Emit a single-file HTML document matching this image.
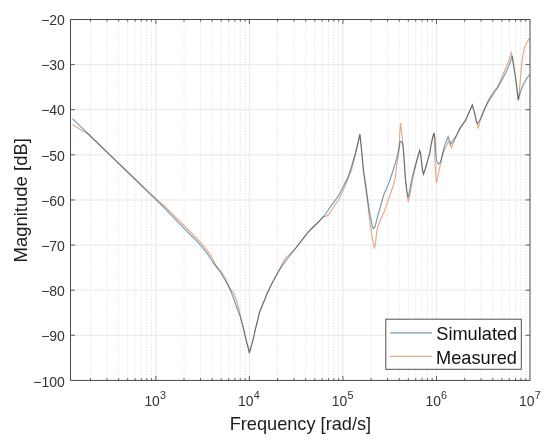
<!DOCTYPE html>
<html><head><meta charset="utf-8"><title>Bode magnitude</title>
<style>html,body{margin:0;padding:0;background:#fff}body{width:550px;height:443px;overflow:hidden}svg{display:block}text{font-family:"Liberation Sans",Arial,Helvetica,sans-serif}</style></head><body>
<svg width="550" height="443" viewBox="0 0 550 443">
<rect width="550" height="443" fill="#fff"/>
<g stroke="#e2e2e2" stroke-width="0.8" stroke-dasharray="1.6 1.4" fill="none"><line x1="90.46" y1="19.50" x2="90.46" y2="380.40"/><line x1="106.93" y1="19.50" x2="106.93" y2="380.40"/><line x1="118.62" y1="19.50" x2="118.62" y2="380.40"/><line x1="127.68" y1="19.50" x2="127.68" y2="380.40"/><line x1="135.09" y1="19.50" x2="135.09" y2="380.40"/><line x1="141.35" y1="19.50" x2="141.35" y2="380.40"/><line x1="146.78" y1="19.50" x2="146.78" y2="380.40"/><line x1="151.56" y1="19.50" x2="151.56" y2="380.40"/><line x1="184.00" y1="19.50" x2="184.00" y2="380.40"/><line x1="200.47" y1="19.50" x2="200.47" y2="380.40"/><line x1="212.16" y1="19.50" x2="212.16" y2="380.40"/><line x1="221.22" y1="19.50" x2="221.22" y2="380.40"/><line x1="228.63" y1="19.50" x2="228.63" y2="380.40"/><line x1="234.89" y1="19.50" x2="234.89" y2="380.40"/><line x1="240.32" y1="19.50" x2="240.32" y2="380.40"/><line x1="245.10" y1="19.50" x2="245.10" y2="380.40"/><line x1="277.54" y1="19.50" x2="277.54" y2="380.40"/><line x1="294.01" y1="19.50" x2="294.01" y2="380.40"/><line x1="305.70" y1="19.50" x2="305.70" y2="380.40"/><line x1="314.76" y1="19.50" x2="314.76" y2="380.40"/><line x1="322.17" y1="19.50" x2="322.17" y2="380.40"/><line x1="328.43" y1="19.50" x2="328.43" y2="380.40"/><line x1="333.86" y1="19.50" x2="333.86" y2="380.40"/><line x1="338.64" y1="19.50" x2="338.64" y2="380.40"/><line x1="371.08" y1="19.50" x2="371.08" y2="380.40"/><line x1="387.55" y1="19.50" x2="387.55" y2="380.40"/><line x1="399.24" y1="19.50" x2="399.24" y2="380.40"/><line x1="408.30" y1="19.50" x2="408.30" y2="380.40"/><line x1="415.71" y1="19.50" x2="415.71" y2="380.40"/><line x1="421.97" y1="19.50" x2="421.97" y2="380.40"/><line x1="427.40" y1="19.50" x2="427.40" y2="380.40"/><line x1="432.18" y1="19.50" x2="432.18" y2="380.40"/><line x1="464.62" y1="19.50" x2="464.62" y2="380.40"/><line x1="481.09" y1="19.50" x2="481.09" y2="380.40"/><line x1="492.78" y1="19.50" x2="492.78" y2="380.40"/><line x1="501.84" y1="19.50" x2="501.84" y2="380.40"/><line x1="509.25" y1="19.50" x2="509.25" y2="380.40"/><line x1="515.51" y1="19.50" x2="515.51" y2="380.40"/><line x1="520.94" y1="19.50" x2="520.94" y2="380.40"/><line x1="525.72" y1="19.50" x2="525.72" y2="380.40"/></g>
<g stroke="#e5e5e5" stroke-width="0.9" fill="none"><line x1="155.84" y1="19.50" x2="155.84" y2="380.40"/><line x1="249.38" y1="19.50" x2="249.38" y2="380.40"/><line x1="342.92" y1="19.50" x2="342.92" y2="380.40"/><line x1="436.46" y1="19.50" x2="436.46" y2="380.40"/><line x1="70.50" y1="335.29" x2="530.00" y2="335.29"/><line x1="70.50" y1="290.18" x2="530.00" y2="290.18"/><line x1="70.50" y1="245.06" x2="530.00" y2="245.06"/><line x1="70.50" y1="199.95" x2="530.00" y2="199.95"/><line x1="70.50" y1="154.84" x2="530.00" y2="154.84"/><line x1="70.50" y1="109.72" x2="530.00" y2="109.72"/><line x1="70.50" y1="64.61" x2="530.00" y2="64.61"/></g>
<defs><filter id="soft" x="-5%" y="-5%" width="110%" height="110%"><feGaussianBlur stdDeviation="0.45"/></filter></defs><g filter="url(#soft)">
<polyline points="72.4,118.6 88.0,133.6 109.0,154.1 130.0,174.6 149.5,193.6 162.0,205.7 185.0,229.3 197.9,242.2 204.0,249.4 208.2,254.9 211.3,259.8 214.5,264.5 219.6,271.0 224.0,278.3 228.0,285.1 230.5,290.2 232.7,296.0 235.6,304.0 238.2,311.3 239.8,315.2 242.0,323.2 244.2,331.9 245.9,339.3 248.1,347.5 249.3,352.7 250.0,350.7 251.9,344.2 253.7,337.0 255.2,330.0 256.5,325.0 257.9,319.7 259.5,312.8 262.8,304.2 265.0,299.0 266.7,294.4 270.4,286.5 272.7,282.0 277.5,273.3 281.1,267.5 284.7,262.4 289.1,256.5 294.2,250.0 299.5,243.1 308.2,232.2 314.2,226.0 319.3,221.2 323.6,216.5 327.6,211.0 331.6,205.2 336.0,199.2 339.3,194.5 342.7,187.8 347.8,177.6 350.4,170.0 355.5,153.0 359.9,134.0 361.8,151.8 363.5,170.0 366.3,189.0 369.3,211.0 371.3,221.0 372.4,227.3 373.5,228.5 375.1,226.4 377.3,217.6 379.5,210.0 383.5,195.5 389.4,181.6 393.7,168.5 397.0,157.6 398.6,150.0 400.3,141.8 401.4,141.4 402.5,142.7 403.5,151.5 404.3,163.0 405.3,177.3 406.8,191.0 408.2,197.3 409.5,191.5 411.7,179.5 414.5,168.5 417.2,158.7 419.7,150.4 420.5,153.3 421.5,162.0 422.6,170.7 423.4,174.0 425.4,168.5 427.5,160.9 429.7,153.3 430.8,146.0 433.0,136.0 434.1,132.9 435.2,140.0 435.6,150.0 436.5,160.9 438.5,164.2 440.6,162.0 442.3,155.5 444.5,145.8 448.1,136.7 450.9,143.9 455.4,136.9 460.5,127.4 465.5,120.4 469.4,111.5 472.3,105.1 474.5,112.7 476.4,121.6 477.6,123.5 480.2,119.4 483.4,111.2 486.0,106.0 489.2,100.4 493.5,93.8 497.9,87.3 502.3,79.6 506.6,70.9 509.9,63.3 512.1,56.0 513.2,63.3 514.8,72.0 516.5,84.0 517.5,93.8 518.3,100.0 518.8,98.0 520.8,90.5 524.1,82.9 527.4,77.5 529.5,74.7" fill="none" stroke="#729cb6" stroke-width="1.15" stroke-linejoin="miter"/>
<polyline points="72.4,124.4 80.0,129.2 88.0,134.0 109.0,154.0 130.0,174.0 149.5,192.4 165.3,207.0 186.5,228.0 200.3,242.2 206.8,249.8 210.5,255.0 213.1,259.4 215.6,265.2 221.1,271.7 225.5,278.3 228.3,285.1 230.7,290.0 233.1,292.4 234.9,296.0 237.1,302.5 239.3,310.5 240.2,315.0 242.1,323.2 244.3,331.9 246.0,339.3 248.2,347.5 249.4,352.8 250.0,350.7 251.9,344.2 253.7,337.0 255.2,330.0 256.4,325.0 257.7,319.7 259.1,312.5 262.6,304.2 265.0,299.0 266.7,294.4 270.4,286.5 272.7,282.0 277.5,273.1 281.1,266.0 283.6,260.9 286.2,257.3 289.8,254.4 292.7,251.1 294.5,250.0 299.5,243.1 308.2,232.2 314.2,226.0 319.3,221.2 323.6,216.5 326.5,216.1 328.7,214.6 331.6,210.3 335.3,204.5 338.9,199.2 342.7,191.6 348.5,177.6 351.6,170.0 355.8,153.0 360.0,134.5 361.6,151.8 363.2,170.0 365.8,189.0 368.5,210.0 370.2,224.2 371.8,235.1 373.5,243.8 374.5,248.7 375.6,242.7 376.7,231.8 377.8,226.4 381.6,217.6 384.9,210.0 388.5,199.0 393.2,186.0 395.4,177.3 396.5,166.4 398.1,156.5 399.2,147.0 399.9,131.8 400.6,123.1 401.9,134.0 403.0,145.0 404.1,157.0 405.2,177.3 406.8,191.5 408.2,201.8 410.6,191.5 413.4,175.0 416.6,162.0 419.7,150.8 420.6,153.3 421.6,162.0 422.7,170.7 423.5,174.2 425.5,168.5 427.6,160.9 429.8,153.3 430.9,146.0 433.1,136.0 434.2,133.0 434.7,150.0 435.2,166.4 436.3,181.6 436.6,182.8 437.9,176.2 439.5,168.5 441.2,160.9 442.8,153.3 445.8,147.1 448.4,141.4 451.5,147.7 455.4,138.2 460.5,127.4 465.5,120.4 469.4,111.5 472.3,104.9 474.5,112.7 476.6,122.6 478.3,128.0 480.2,120.4 483.4,112.7 486.0,106.0 488.1,100.4 491.4,94.9 494.1,90.5 497.4,87.3 501.2,78.5 505.5,68.7 508.8,61.1 511.3,52.7 512.8,59.3 514.6,72.0 516.3,84.0 517.4,93.8 518.3,100.6 519.2,92.7 520.3,79.6 521.4,66.5 522.5,57.1 524.6,47.3 527.4,41.8 529.5,38.0" fill="none" stroke="#e3a988" stroke-width="1.15" stroke-linejoin="miter" style="mix-blend-mode:multiply"/>
</g>
<path d="M155.84 380.40v-4.4M155.84 19.50v4.4M249.38 380.40v-4.4M249.38 19.50v4.4M342.92 380.40v-4.4M342.92 19.50v4.4M436.46 380.40v-4.4M436.46 19.50v4.4M90.46 380.40v-2.2M90.46 19.50v2.2M106.93 380.40v-2.2M106.93 19.50v2.2M118.62 380.40v-2.2M118.62 19.50v2.2M127.68 380.40v-2.2M127.68 19.50v2.2M135.09 380.40v-2.2M135.09 19.50v2.2M141.35 380.40v-2.2M141.35 19.50v2.2M146.78 380.40v-2.2M146.78 19.50v2.2M151.56 380.40v-2.2M151.56 19.50v2.2M184.00 380.40v-2.2M184.00 19.50v2.2M200.47 380.40v-2.2M200.47 19.50v2.2M212.16 380.40v-2.2M212.16 19.50v2.2M221.22 380.40v-2.2M221.22 19.50v2.2M228.63 380.40v-2.2M228.63 19.50v2.2M234.89 380.40v-2.2M234.89 19.50v2.2M240.32 380.40v-2.2M240.32 19.50v2.2M245.10 380.40v-2.2M245.10 19.50v2.2M277.54 380.40v-2.2M277.54 19.50v2.2M294.01 380.40v-2.2M294.01 19.50v2.2M305.70 380.40v-2.2M305.70 19.50v2.2M314.76 380.40v-2.2M314.76 19.50v2.2M322.17 380.40v-2.2M322.17 19.50v2.2M328.43 380.40v-2.2M328.43 19.50v2.2M333.86 380.40v-2.2M333.86 19.50v2.2M338.64 380.40v-2.2M338.64 19.50v2.2M371.08 380.40v-2.2M371.08 19.50v2.2M387.55 380.40v-2.2M387.55 19.50v2.2M399.24 380.40v-2.2M399.24 19.50v2.2M408.30 380.40v-2.2M408.30 19.50v2.2M415.71 380.40v-2.2M415.71 19.50v2.2M421.97 380.40v-2.2M421.97 19.50v2.2M427.40 380.40v-2.2M427.40 19.50v2.2M432.18 380.40v-2.2M432.18 19.50v2.2M464.62 380.40v-2.2M464.62 19.50v2.2M481.09 380.40v-2.2M481.09 19.50v2.2M492.78 380.40v-2.2M492.78 19.50v2.2M501.84 380.40v-2.2M501.84 19.50v2.2M509.25 380.40v-2.2M509.25 19.50v2.2M515.51 380.40v-2.2M515.51 19.50v2.2M520.94 380.40v-2.2M520.94 19.50v2.2M525.72 380.40v-2.2M525.72 19.50v2.2M70.50 335.29h4.4M530.00 335.29h-4.4M70.50 290.18h4.4M530.00 290.18h-4.4M70.50 245.06h4.4M530.00 245.06h-4.4M70.50 199.95h4.4M530.00 199.95h-4.4M70.50 154.84h4.4M530.00 154.84h-4.4M70.50 109.72h4.4M530.00 109.72h-4.4M70.50 64.61h4.4M530.00 64.61h-4.4" stroke="#4a4a4a" stroke-width="0.9" fill="none"/>
<rect x="70.50" y="19.50" width="459.50" height="360.90" fill="none" stroke="#4a4a4a" stroke-width="1"/>
<text x="64.9" y="24.90" font-size="14" text-anchor="end" fill="#333">−20</text>
<text x="64.9" y="70.11" font-size="14" text-anchor="end" fill="#333">−30</text>
<text x="64.9" y="115.32" font-size="14" text-anchor="end" fill="#333">−40</text>
<text x="64.9" y="160.53" font-size="14" text-anchor="end" fill="#333">−50</text>
<text x="64.9" y="205.74" font-size="14" text-anchor="end" fill="#333">−60</text>
<text x="64.9" y="250.95" font-size="14" text-anchor="end" fill="#333">−70</text>
<text x="64.9" y="296.16" font-size="14" text-anchor="end" fill="#333">−80</text>
<text x="64.9" y="341.37" font-size="14" text-anchor="end" fill="#333">−90</text>
<text x="64.9" y="386.58" font-size="14" text-anchor="end" fill="#333">−100</text>
<text x="144.38" y="406.0" font-size="13.9" fill="#333">10<tspan dx="0.2" dy="-6.6" font-size="10.8">3</tspan></text>
<text x="238.06" y="406.0" font-size="13.9" fill="#333">10<tspan dx="0.2" dy="-6.6" font-size="10.8">4</tspan></text>
<text x="331.74" y="406.0" font-size="13.9" fill="#333">10<tspan dx="0.2" dy="-6.6" font-size="10.8">5</tspan></text>
<text x="425.42" y="406.0" font-size="13.9" fill="#333">10<tspan dx="0.2" dy="-6.6" font-size="10.8">6</tspan></text>
<text x="519.10" y="406.0" font-size="13.9" fill="#333">10<tspan dx="0.2" dy="-6.6" font-size="10.8">7</tspan></text>
<text x="300.4" y="430" font-size="18.2" text-anchor="middle" fill="#1c1c1c">Frequency [rad/s]</text>
<text transform="translate(26.6 200.3) rotate(-90)" font-size="18.5" text-anchor="middle" fill="#1c1c1c">Magnitude [dB]</text>
<rect x="385.8" y="319.2" width="135.5" height="50.1" fill="#fff" stroke="#505050" stroke-width="1"/>
<line x1="390" y1="332.8" x2="432" y2="332.8" stroke="#729cb6" stroke-width="1.15"/>
<line x1="390" y1="356.3" x2="432" y2="356.3" stroke="#e3a988" stroke-width="1.15"/>
<text x="436.3" y="340" font-size="18.2" fill="#111">Simulated</text>
<text x="436.1" y="364.2" font-size="18.2" fill="#111">Measured</text>
</svg></body></html>
